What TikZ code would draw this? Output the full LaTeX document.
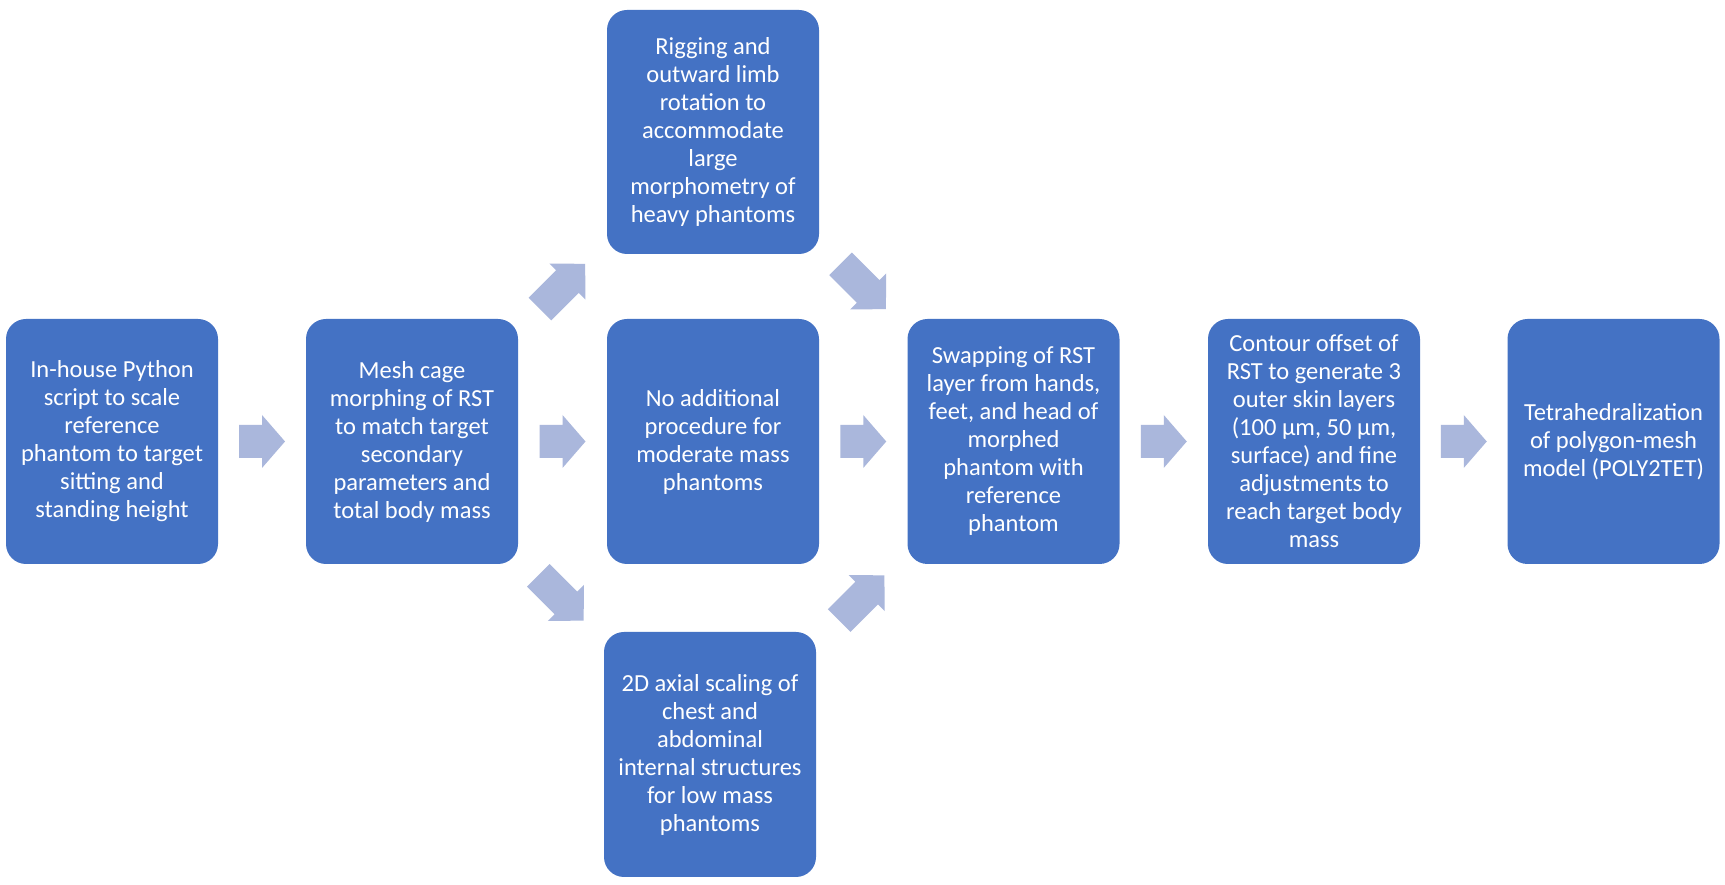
\documentclass[tikz,border=0pt]{standalone}
\usepackage{fontspec}
\setmainfont{Carlito}
\usetikzlibrary{calc}
\definecolor{boxc}{HTML}{4472C4}
\definecolor{arrc}{RGB}{170,183,220}
\begin{document}
\begin{tikzpicture}[x=1pt,y=1pt,
  stepbox/.style={fill=boxc, rounded corners=20pt, minimum width=212pt, minimum height=245pt,
    inner sep=0pt, align=center, text=white, font=\fontsize{24.5}{28}\selectfont},
  harrow/.pic={\fill[arrc] (-23,-16.5) -- (0,-16.5) -- (0,-26.5) -- (23,0) -- (0,26.5) -- (0,16.5) -- (-23,16.5) -- cycle;},
  darrow/.pic={\fill[arrc] (-32,-16) -- (7,-16) -- (7,-25.5) -- (32,0) -- (7,25.5) -- (7,16) -- (-32,16) -- cycle;}
]
\useasboundingbox (0,0) rectangle (1725,885);
\fill[white] (0,0) rectangle (1725,885);

\node[stepbox] (b1) at (112,443.5) {In-house Python\\script to scale\\reference\\phantom to target\\sitting and\\standing height};
\node[stepbox] (b2) at (412,443.5) {Mesh cage\\morphing of RST\\to match target\\secondary\\parameters and\\total body mass};
\node[stepbox] (b3) at (713,443.5) {No additional\\procedure for\\moderate mass\\phantoms};
\node[stepbox, minimum height=244pt] (top) at (713,753) {Rigging and\\outward limb\\rotation to\\accommodate\\large\\morphometry of\\heavy phantoms};
\node[stepbox] (bot) at (710,130.5) {2D axial scaling of\\chest and\\abdominal\\internal structures\\for low mass\\phantoms};
\node[stepbox] (b4) at (1013.5,443.5) {Swapping of RST\\layer from hands,\\feet, and head of\\morphed\\phantom with\\reference\\phantom};
\node[stepbox] (b5) at (1314,443.5) {Contour offset of\\RST to generate 3\\outer skin layers\\(100 µm, 50 µm,\\surface) and fine\\adjustments to\\reach target body\\mass};
\node[stepbox] (b6) at (1613.5,443.5) {Tetrahedralization\\of polygon-mesh\\model (POLY2TET)};

\pic at ($(b1.east)!0.5!(b2.west)$) {harrow};
\pic at ($(b2.east)!0.5!(b3.west)$) {harrow};
\pic at ($(b3.east)!0.5!(b4.west)$) {harrow};
\pic at ($(b4.east)!0.5!(b5.west)$) {harrow};
\pic at ($(b5.east)!0.5!(b6.west)$) {harrow};

\pic[rotate=45] at ($(b2.north east)!0.5!(top.south west)$) {darrow};
\pic[rotate=-45] at ($(top.south east)!0.5!(b4.north west)$) {darrow};
\pic[rotate=-45] at ($(b2.south east)!0.5!(bot.north west)$) {darrow};
\pic[rotate=45] at ($(bot.north east)!0.5!(b4.south west)$) {darrow};
\end{tikzpicture}
\end{document}
